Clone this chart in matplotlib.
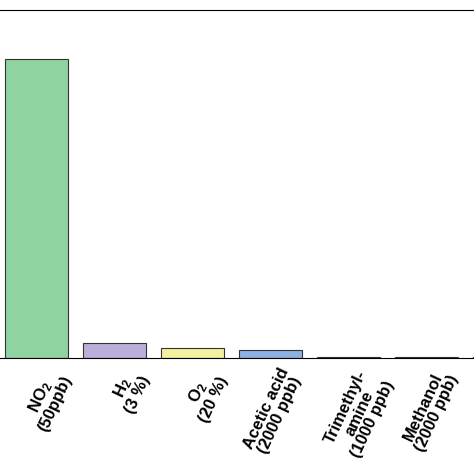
import matplotlib
matplotlib.use("Agg")
import matplotlib.pyplot as plt

labels = ["NO$_2$\n(50ppb)", "H$_2$\n(3 %)", "O$_2$\n(20 %)", "Acetic acid\n(2000 ppb)",
          "Trimethyl-\namine\n(1000 ppb)", "Methanol\n(2000 ppb)", "Hexane\n(2000 ppb)"]
values = [299, 15, 10, 8, 0.4, 1.0, 1.0]
colors = ["#8fd3a0", "#bcaedb", "#f5f0a0", "#8fb0e3", "#c8c8c8", "#e0b090", "#d0d0d0"]

plt.rcParams["font.family"] = ["Liberation Sans", "DejaVu Sans"]
plt.rcParams["mathtext.fontset"] = "custom"
plt.rcParams["mathtext.rm"] = "Liberation Sans:bold"
plt.rcParams["mathtext.it"] = "Liberation Sans:bold"

fig = plt.figure(figsize=(4.74, 4.74), dpi=100)
ax = fig.add_axes([0, 0.245, 1, 0.734])
x = list(range(len(values)))
ax.bar(x, values, width=0.81, color=colors, edgecolor="#333333", linewidth=0.8)
ax.set_xlim(-0.468, 5.61)
ax.set_ylim(0, 348)
ax.set_yticks([])
ax.spines["left"].set_visible(False)
ax.spines["right"].set_visible(False)
ax.set_xticks([])
for i, lab in enumerate(labels):
    ax.text(i + 0.1, -8, lab, rotation=65, ha="right", va="top", rotation_mode="anchor",
            fontsize=12, fontweight="bold", multialignment="center", clip_on=False,
            linespacing=1.0)
fig.savefig("out.png", dpi=100)
